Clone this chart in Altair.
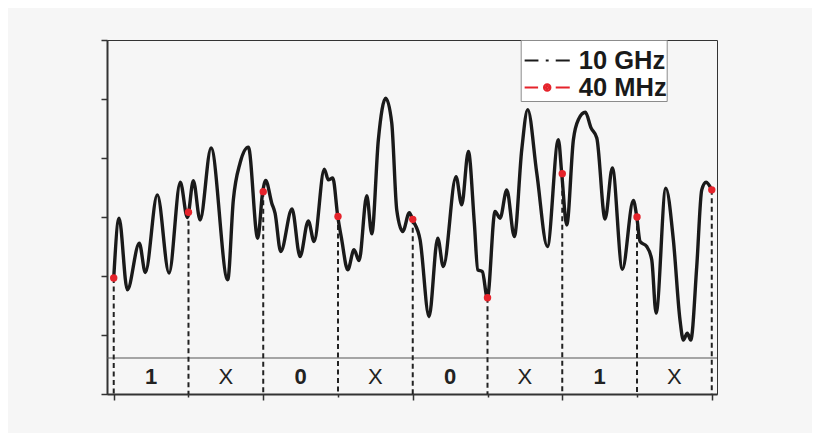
import altair as alt
import pandas as pd

# 10 GHz trace: x in bit slots (tick units), y in axis units (minor ticks)
curve_x = [0.000, 0.071, 0.182, 0.342, 0.423, 0.583, 0.740, 0.891, 0.985, 1.065,
           1.155, 1.302, 1.525, 1.600, 1.690, 1.801, 1.926, 1.993, 2.033, 2.114,
           2.158, 2.234, 2.385, 2.492, 2.603, 2.680, 2.817, 2.871, 2.930, 2.997,
           3.050, 3.130, 3.215, 3.282, 3.385, 3.452, 3.540, 3.639, 3.719, 3.786,
           3.866, 3.955, 4.000, 4.098, 4.218, 4.334, 4.409, 4.579, 4.655, 4.744,
           4.824, 4.870, 4.931, 4.998, 5.101, 5.168, 5.258, 5.359, 5.458, 5.538,
           5.659, 5.801, 5.948, 5.993, 6.060, 6.149, 6.215, 6.309, 6.385, 6.462,
           6.573, 6.670, 6.804, 6.951, 6.997, 7.041, 7.130, 7.197, 7.255, 7.385,
           7.486, 7.575, 7.620, 7.673, 7.719, 7.799, 7.866, 7.924, 8.000]
curve_y = [3.93, 5.96, 3.53, 5.11, 4.12, 6.75, 4.10, 7.18, 5.98, 7.23,
           5.90, 8.34, 3.87, 6.58, 7.83, 8.37, 5.28, 6.86, 7.24, 6.47,
           6.13, 4.83, 6.27, 4.66, 5.87, 5.17, 7.62, 7.26, 7.32, 6.02,
           5.23, 4.21, 4.89, 4.52, 6.72, 5.43, 8.62, 10.03, 9.19, 6.24,
           5.51, 6.15, 5.90, 5.23, 2.62, 5.28, 4.32, 7.37, 6.41, 8.22,
           5.79, 4.21, 4.15, 3.26, 6.19, 5.96, 6.92, 5.34, 8.28, 9.64,
           7.49, 5.00, 8.62, 7.47, 5.73, 8.62, 9.30, 9.55, 9.02, 8.68,
           5.93, 7.66, 4.23, 6.56, 6.00, 5.17, 5.00, 4.55, 2.74, 6.98,
           5.23, 2.51, 1.83, 2.06, 1.83, 4.32, 6.92, 7.18, 6.92]

# 40 MHz samples
sample_x = [0, 1, 2, 3, 4, 5, 6, 7, 8]
sample_y = [3.93, 6.16, 6.86, 6.02, 5.92, 3.26, 7.47, 6.00, 6.92]

# bit decisions
bit_x = [0.5, 1.5, 2.5, 3.5, 4.5, 5.5, 6.5, 7.5]
bit_labels = ["1", "X", "0", "X", "0", "X", "1", "X"]
band_y = 1.22
bit_label_y = 0.58

series = ["10 GHz", "40 MHz"]
BLACK = "#1a1a1a"
RED = "#e5232b"

curve = pd.DataFrame({"x": curve_x, "y": curve_y})
samples = pd.DataFrame({"x": sample_x, "y": sample_y})
bits = pd.DataFrame({"x": bit_x, "label": bit_labels})
band = pd.DataFrame({"y": [band_y]})
legend_df = pd.DataFrame({"series": series, "x": [-5, -5], "y": [-5, -5]})

xs = alt.Scale(domain=[-0.09, 8.07], nice=False, zero=False)
ys = alt.Scale(domain=[0, 12], nice=False, zero=False)

tick_cond = {"condition": {"test": "datum.value % 2 === 0", "value": 6}, "value": 3}
x_axis = alt.Axis(values=list(range(9)), labels=False, title=None, grid=False,
                  tickSize=tick_cond, domainWidth=2, domainColor="#333",
                  tickColor="#333", tickWidth=1.5)
y_axis = alt.Axis(values=list(range(13)), labels=False, title=None, grid=False,
                  tickSize=tick_cond, domainWidth=2, domainColor="#333",
                  tickColor="#333", tickWidth=1.5)

X = alt.X("x:Q", scale=xs, axis=x_axis)
Y = alt.Y("y:Q", scale=ys, axis=y_axis)

band_layer = alt.Chart(band).mark_rule(color="#555", strokeWidth=1).encode(y=Y)

drops = alt.Chart(samples).mark_rule(
    color="#222", strokeWidth=2, strokeDash=[5, 3.5]
).encode(x=X, y=Y, y2=alt.datum(0))

line = alt.Chart(curve).mark_line(
    color=BLACK, strokeWidth=3.4, interpolate="monotone"
).encode(x=X, y=Y)

pts = alt.Chart(samples).mark_circle(color=RED, size=55, opacity=1).encode(x=X, y=Y)

bold_txt = alt.Chart(bits).transform_filter(alt.datum.label != "X").mark_text(
    font="Liberation Sans", fontSize=22, fontWeight="bold", color="#222", baseline="middle"
).encode(x=X, y=alt.datum(bit_label_y), text="label:N")

norm_txt = alt.Chart(bits).transform_filter(alt.datum.label == "X").mark_text(
    font="Liberation Sans", fontSize=22, fontWeight="normal", color="#222", baseline="middle"
).encode(x=X, y=alt.datum(bit_label_y), text="label:N")

# legend glyphs (unit square coordinates, 1 unit = 12 px)
path_ghz = "M-1.88,0L-0.73,0M-0.12,0L0.12,0M0.71,0L1.88,0"
path_mhz = ("M-1.88,0L-0.76,0M0.71,0L1.88,0"
            "M0.27,0A0.27,0.27 0 1,1 -0.27,0A0.27,0.27 0 1,1 0.27,0"
            "M0.1,0A0.1,0.1 0 1,1 -0.1,0A0.1,0.1 0 1,1 0.1,0")

leg = alt.Legend(title=" ", titleFontSize=1, titlePadding=6.5,
                 orient="none", legendX=413.7, legendY=0,
                 fillColor="white", strokeColor="#8c8c8c", padding=0,
                 labelFont="Liberation Sans", labelFontSize=25.5, labelFontWeight="bold",
                 labelColor=BLACK, symbolStrokeWidth=2, symbolSize=576,
                 symbolOffset=13.5, labelOffset=18.6, rowPadding=-6.3,
                 symbolFillColor="transparent")

legend_layer = alt.Chart(legend_df).mark_point(
    clip=True, filled=False, strokeWidth=2, size=576, opacity=1
).encode(
    x=X, y=Y,
    color=alt.Color("series:N", scale=alt.Scale(domain=series, range=[BLACK, RED]), legend=leg),
    shape=alt.Shape("series:N", scale=alt.Scale(domain=series, range=[path_ghz, path_mhz]), legend=leg),
)

chart = alt.layer(band_layer, drops, line, pts, bold_txt, norm_txt, legend_layer).properties(
    width=610, height=354,
    padding={"left": 99, "top": 32, "right": 95, "bottom": 39},
    autosize=alt.AutoSizeParams(type="none"),
    background="#f6f6f6",
).configure_view(stroke="#333", strokeWidth=1)

chart.save("out.html", embed_options={"renderer": "svg", "actions": False})
